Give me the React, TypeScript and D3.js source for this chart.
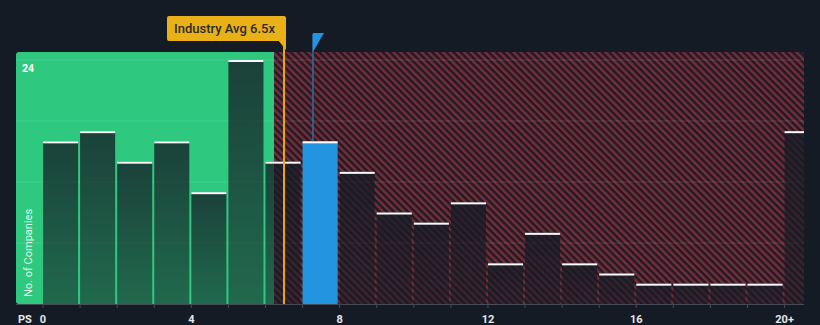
import React from "react";
import * as d3 from "d3";

const binStarts = [0, 1, 2, 3, 4, 5, 6, 7, 8, 9, 10, 11, 12, 13, 14, 15, 16, 17, 18, 19, 20];
const counts = [16, 17, 14, 16, 11, 24, 14, 16, 13, 9, 8, 10, 4, 7, 4, 3, 2, 2, 2, 2, 17];
const xTickValues = [0, 4, 8, 12, 16, 20];
const xTickLabels = ["0", "4", "8", "12", "16", "20+"];
const yGridValues = [0, 6, 12, 18, 24];
const industryAvg = 6.5;
const companyValue = 7.28;
const fairThreshold = 6.23;
const highlightBin = 7;

const W = 820;
const H = 325;
const left = 16;
const right = 804;
const top = 52;
const bottom = 304;

export default function App() {
  const x = d3.scaleLinear().domain([0, 20]).range([43, 784.6]);
  const y = d3.scaleLinear().domain([0, 24]).range([bottom, 60]);
  const greenEnd = x(fairThreshold);
  const font = "Roboto, 'Noto Sans', Arial, sans-serif";

  return (
    <svg
      width={W}
      height={H}
      style={{ position: "absolute", left: 0, top: 0, background: "#151b25" }}
    >
      <defs>
        <pattern
          id="hatch"
          patternUnits="userSpaceOnUse"
          width={5}
          height={5}
          patternTransform="rotate(-45)"
        >
          <rect width={5} height={5} fill="#1a1c27" />
          <rect width={2.5} height={5} fill="#7a2c36" />
        </pattern>
        <linearGradient id="barShade" x1="0" y1="0" x2="0" y2="1">
          <stop offset="0%" stopColor="#151b25" stopOpacity={0.78} />
          <stop offset="100%" stopColor="#151b25" stopOpacity={0.55} />
        </linearGradient>
        <clipPath id="plotClip">
          <rect x={left} y={top} width={right - left} height={bottom - top} rx={3} />
        </clipPath>
      </defs>
      <rect x={0} y={0} width={W} height={H} fill="#151b25" />
      <g clipPath="url(#plotClip)">
        <rect x={greenEnd} y={top} width={right - greenEnd} height={bottom - top} fill="url(#hatch)" />
        <rect x={left} y={top} width={greenEnd - left} height={bottom - top} fill="#2ec97f" />
        {yGridValues.slice(1).map((v) => (
          <line
            key={"g" + v}
            x1={left}
            x2={right}
            y1={y(v)}
            y2={y(v)}
            stroke="#ffffff"
            strokeOpacity={0.12}
            strokeWidth={1}
          />
        ))}
        {binStarts.map((b, i) => {
          const x0 = x(b);
          const x1 = x(b + 1) - 2;
          const yt = y(counts[i]);
          const isHi = b === highlightBin;
          return (
            <g key={"b" + b}>
              <rect
                x={x0}
                y={yt}
                width={x1 - x0}
                height={bottom - yt}
                fill={isHi ? "#2394df" : "url(#barShade)"}
              />
              <rect x={x0} y={yt} width={x1 - x0} height={2} fill="#ffffff" />
            </g>
          );
        })}
      </g>
      {/* axis */}
      <line x1={left} x2={right} y1={bottom + 0.5} y2={bottom + 0.5} stroke="#454b57" strokeWidth={1} />
      {d3.range(0, 21).map((t) => (
        <line
          key={"t" + t}
          x1={x(t)}
          x2={x(t)}
          y1={bottom}
          y2={bottom + 4}
          stroke="#454b57"
          strokeWidth={1}
        />
      ))}
      {xTickValues.map((v, i) => (
        <text
          key={"xl" + v}
          x={x(v)}
          y={323}
          textAnchor="middle"
          fill="#e6e8eb"
          fontSize={11}
          fontWeight={700}
          fontFamily={font}
        >
          {xTickLabels[i]}
        </text>
      ))}
      <text x={18} y={323} fill="#e6e8eb" fontSize={11} fontWeight={700} fontFamily={font}>
        PS
      </text>
      <text x={22} y={72} fill="#ffffff" fontSize={10.5} fontWeight={700} fontFamily={font}>
        {String(yGridValues[4])}
      </text>
      <text
        transform={`translate(32, 297) rotate(-90)`}
        fill="#ffffff"
        fillOpacity={0.85}
        fontSize={11}
        fontFamily={font}
      >
        No. of Companies
      </text>
      {/* company marker */}
      <line
        x1={x(companyValue)}
        x2={x(companyValue)}
        y1={34}
        y2={y(counts[highlightBin])}
        stroke="#2e6aa6"
        strokeWidth={1.5}
      />
      <path
        d={`M${x(companyValue)},33 L${x(companyValue) + 11},33 L${x(companyValue)},52 Z`}
        fill="#2394df"
      />
      {/* industry avg */}
      <line
        x1={x(industryAvg)}
        x2={x(industryAvg)}
        y1={41}
        y2={bottom}
        stroke="#e9a818"
        strokeWidth={2}
      />
      <rect x={167} y={16} width={x(industryAvg) + 2 - 167} height={25} rx={2} fill="#e9b117" />
      <path
        d={`M${x(industryAvg) - 6},40 L${x(industryAvg) + 2},40 L${x(industryAvg) + 2},50 Z`}
        fill="#e9b117"
      />
      <text x={174} y={33} fill="#2a2a2a" fontSize={13} fontWeight={500} fontFamily={font}>
        Industry Avg {industryAvg}x
      </text>
    </svg>
  );
}
